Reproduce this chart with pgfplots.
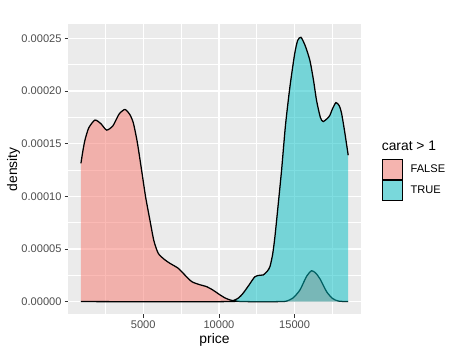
\documentclass[border=0pt]{standalone}
\usepackage{fontspec}
\setmainfont{Liberation Sans}
\usepackage{pgfplots}
\usepackage{pgfplotstable}
\pgfplotsset{compat=1.18}
\definecolor{panelbg}{HTML}{EBEBEB}
\definecolor{fpink}{HTML}{F8766D}
\definecolor{fcyan}{HTML}{00BFC4}
\definecolor{lpink}{HTML}{F5B4AF}
\definecolor{lcyan}{HTML}{79D8DB}
\definecolor{gray30}{HTML}{4D4D4D}
\definecolor{gray20}{HTML}{333333}

\pgfplotstableread{
p d
885 1.313e-4
1000 1.42e-4
1150 1.534e-4
1400 1.65e-4
1810 1.724e-4
2200 1.69e-4
2580 1.629e-4
3000 1.67e-4
3400 1.78e-4
3790 1.825e-4
4100 1.78e-4
4340 1.70e-4
4600 1.52e-4
4890 1.25e-4
5150 1.0e-4
5440 7.75e-5
5700 5.8e-5
5990 4.59e-5
6400 4.0e-5
6760 3.64e-5
7310 3.17e-5
7700 2.6e-5
8200 1.9e-5
8700 1.62e-5
9190 1.42e-5
9600 1.1e-5
10070 6.4e-6
10400 3.5e-6
10730 1.6e-6
11100 0.5e-6
11800 0
14000 0
14470 0.5e-6
14900 3.5e-6
15350 1.1e-5
15790 2.4e-5
16120 2.93e-5
16400 2.7e-5
16700 2.1e-5
17110 9.5e-6
17500 3e-6
17900 0.5e-6
18540 0
}\falsedata

\pgfplotstableread{
p d
885 0
10500 0
10950 1e-6
11300 3.5e-6
11600 8e-6
12000 1.6e-5
12380 2.37e-5
12700 2.5e-5
12930 2.53e-5
13200 2.9e-5
13370 3.32e-5
13550 4.5e-5
13700 6.17e-5
13900 9e-5
14140 1.25e-4
14400 1.68e-4
14690 2.04e-4
15000 2.35e-4
15200 2.48e-4
15420 2.51e-4
15700 2.43e-4
16010 2.29e-4
16250 2.1e-4
16450 1.91e-4
16700 1.75e-4
16890 1.71e-4
17290 1.76e-4
17500 1.83e-4
17730 1.89e-4
17950 1.86e-4
18100 1.79e-4
18300 1.62e-4
18540 1.39e-4
}\truedata

\begin{document}
\begin{tikzpicture}
\useasboundingbox (0,0) rectangle (376.4pt,281.9pt);
\begin{axis}[
  at={(54pt,32.2pt)}, anchor=south west,
  scale only axis, width=232.6pt, height=230.6pt,
  xmin=30, xmax=19380, ymin=-0.0000122, ymax=0.0002636,
  axis background/.style={fill=panelbg},
  axis line style={draw=none},
  scaled ticks=false,
  xtick={5000,10000,15000}, xticklabels={5000,10000,15000},
  ytick={0,0.00005,0.0001,0.00015,0.0002,0.00025},
  yticklabels={0.00000,0.00005,0.00010,0.00015,0.00020,0.00025},
  minor xtick={2500,7500,12500,17500},
  minor ytick={0.000025,0.000075,0.000125,0.000175,0.000225},
  grid=both,
  major grid style={white, line width=1.07pt},
  minor grid style={white, line width=0.53pt},
  xtick pos=lower, ytick pos=left, tick align=outside,
  major tick length=2.75pt, minor tick length=0pt,
  major tick style={gray20, line width=0.6pt},
  ticklabel style={color=gray30, font=\fontsize{8.8}{10}\selectfont, inner sep=0pt},
  xticklabel style={anchor=north, yshift=-2.2pt},
  yticklabel style={anchor=east, xshift=-2.2pt},
  xlabel={price}, ylabel={density},
  xlabel style={at={(axis description cs:0.5,-0.0877)}, anchor=center, font=\fontsize{11}{13}\selectfont, inner sep=0pt},
  ylabel style={at={(axis description cs:-0.186,0.5)}, anchor=center, rotate=0, font=\fontsize{11}{13}\selectfont, inner sep=0pt},
  legend style={at={(1.0718,0.5351)}, anchor=north west, draw=none, fill=none,
    inner sep=0pt, outer sep=0pt, row sep=0pt, column sep=6.3pt,
    font=\fontsize{8.8}{10}\selectfont, nodes={inner sep=0pt, outer sep=0pt}},
  legend cell align=left,
  legend image code/.code={\draw[#1] (0pt,-7.95pt) rectangle (15.9pt,7.95pt);},
]
\addplot[draw=none, fill=fpink, fill opacity=0.5, smooth, tension=0.4, forget plot] table[x=p,y=d] {\falsedata} \closedcycle;
\addplot[black, line width=1.0pt, smooth, tension=0.4, forget plot] table[x=p,y=d] {\falsedata};
\addplot[draw=none, fill=fcyan, fill opacity=0.5, smooth, tension=0.4, forget plot] table[x=p,y=d] {\truedata} \closedcycle;
\addplot[black, line width=1.0pt, smooth, tension=0.4, forget plot] table[x=p,y=d] {\truedata};
\addlegendimage{fill=lpink, draw=black, line width=0.6pt}
\addlegendentry{FALSE}
\addlegendimage{fill=lcyan, draw=black, line width=0.6pt}
\addlegendentry{TRUE}
\end{axis}
\node[anchor=west, inner sep=0pt, font=\fontsize{11}{13}\selectfont] at (303pt,166.2pt) {carat > 1};
\end{tikzpicture}
\end{document}
